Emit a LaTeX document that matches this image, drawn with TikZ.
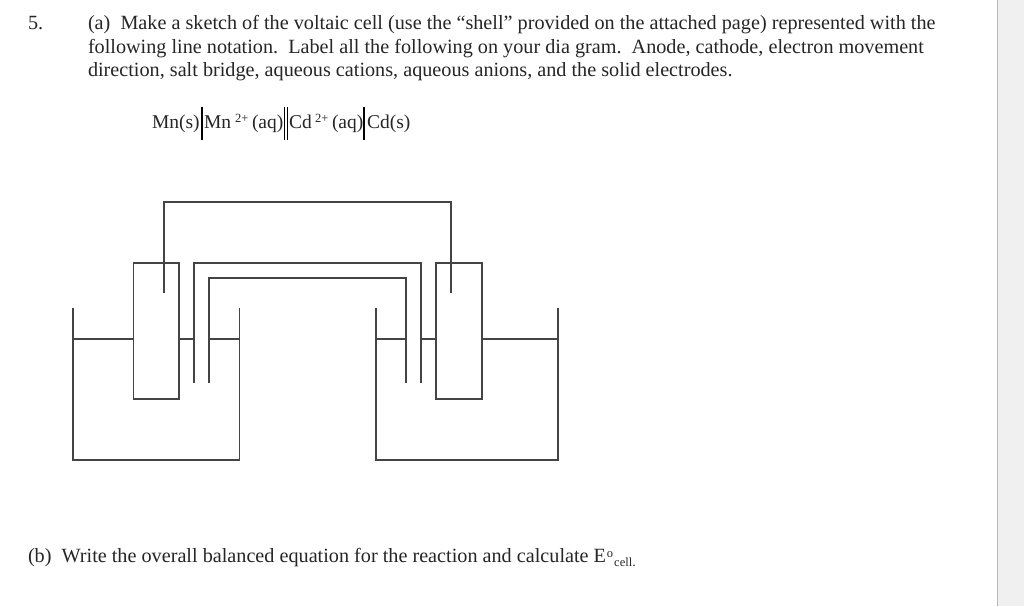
\documentclass[tikz,border=0pt]{standalone}
\usepackage{fontspec}
\setmainfont{Liberation Serif}
\usetikzlibrary{positioning,calc}
\definecolor{inkgray}{HTML}{444444}
\definecolor{barfill}{HTML}{F0F0F0}
\definecolor{barline}{HTML}{B8B8B8}
\tikzset{
  txt/.style={anchor=base west,inner sep=0pt,outer sep=0pt,text=black!85,font=\fontsize{20.2}{22}\selectfont},
  nota/.style={txt,font=\fontsize{19.5}{22}\selectfont},
  sup2/.style={anchor=base west,inner sep=0pt,outer sep=0pt,text=black!85,font=\fontsize{12.5}{14}\selectfont},
  cellline/.style={draw=inkgray,line width=1.9pt,line cap=butt,line join=miter},
  notebar/.style={draw=black,line width=1.4pt}
}
\begin{document}
\begin{tikzpicture}[x=1pt,y=-1pt]
\useasboundingbox (0,0) rectangle (1024,606);
\fill[white] (0,0) rectangle (1024,606);
\fill[barfill] (997,0) rectangle (1024,606);
\draw[barline,line width=1pt] (997,0) -- (997,606);

\node[txt] at (28,29) (num) {5.};
\node[txt] at (88,29) (la) {(a)\ \ Make a sketch of the voltaic cell (use the “shell” provided on the attached page) represented with the};
\node[txt] at (88,53) (lb) {following line notation.\ \ Label all the following on your dia gram.\ \ Anode, cathode, electron movement};
\node[txt] at (88,76) (lc) {direction, salt bridge, aqueous cations, aqueous anions, and the solid electrodes.};

\node[nota] at (152,128) (mns) {Mn(s)};
\node[nota] at (204,128) (mni) {Mn};
\node[sup2] at (235,122) (mnc) {2+};
\node[nota] at (252,128) (mnq) {(aq)};
\node[nota] at (289,128) (cdi) {Cd};
\node[sup2] at (315,122) (cdc) {2+};
\node[nota] at (332,128) (cdq) {(aq)};
\node[nota] at (367,128) (cds) {Cd(s)};

\draw[notebar] (202,107) -- (202,140);
\draw[notebar] (284.5,107) -- (284.5,140);
\draw[notebar] (287.5,107) -- (287.5,140);
\draw[notebar] (364,107) -- (364,140);

% left beaker
\draw[cellline] (73,308) -- (73,460) -- (239.5,460) -- (239.5,308);
\draw[cellline] (73,338.7) -- (133.5,338.7);
\draw[cellline] (179,338.7) -- (194,338.7);
\draw[cellline] (209.3,338.7) -- (239.5,338.7);
\draw[cellline] (133.5,262.7) rectangle (179,399);

% right beaker
\draw[cellline] (375.7,308) -- (375.7,460) -- (557.7,460) -- (557.7,308);
\draw[cellline] (375.7,338.7) -- (406.3,338.7);
\draw[cellline] (421.3,338.7) -- (436.3,338.7);
\draw[cellline] (482,338.7) -- (557.7,338.7);
\draw[cellline] (436.3,262.7) rectangle (482,399);

% wire and salt bridge
\draw[cellline] (163.7,292.7) -- (163.7,202.3) -- (451.3,202.3) -- (451.3,292.7);
\draw[cellline] (194,383) -- (194,262.7) -- (421.3,262.7) -- (421.3,383);
\draw[cellline] (209.3,383) -- (209.3,278.3) -- (406.3,278.3) -- (406.3,383);

\node[txt] at (28,562) (lq) {(b)\ \ Write the overall balanced equation for the reaction and calculate E};
\node[sup2,right=0pt of lq.base east,anchor=base west,yshift=5pt,xshift=1pt] (deg) {o};
\node[sup2,right=0pt of deg.base east,anchor=base west,yshift=-9pt,xshift=1pt] (sub) {cell};
\node[sup2,font=\fontsize{14}{14}\selectfont,right=0pt of sub.base east,anchor=base west] (dot) {.};
\end{tikzpicture}
\end{document}
